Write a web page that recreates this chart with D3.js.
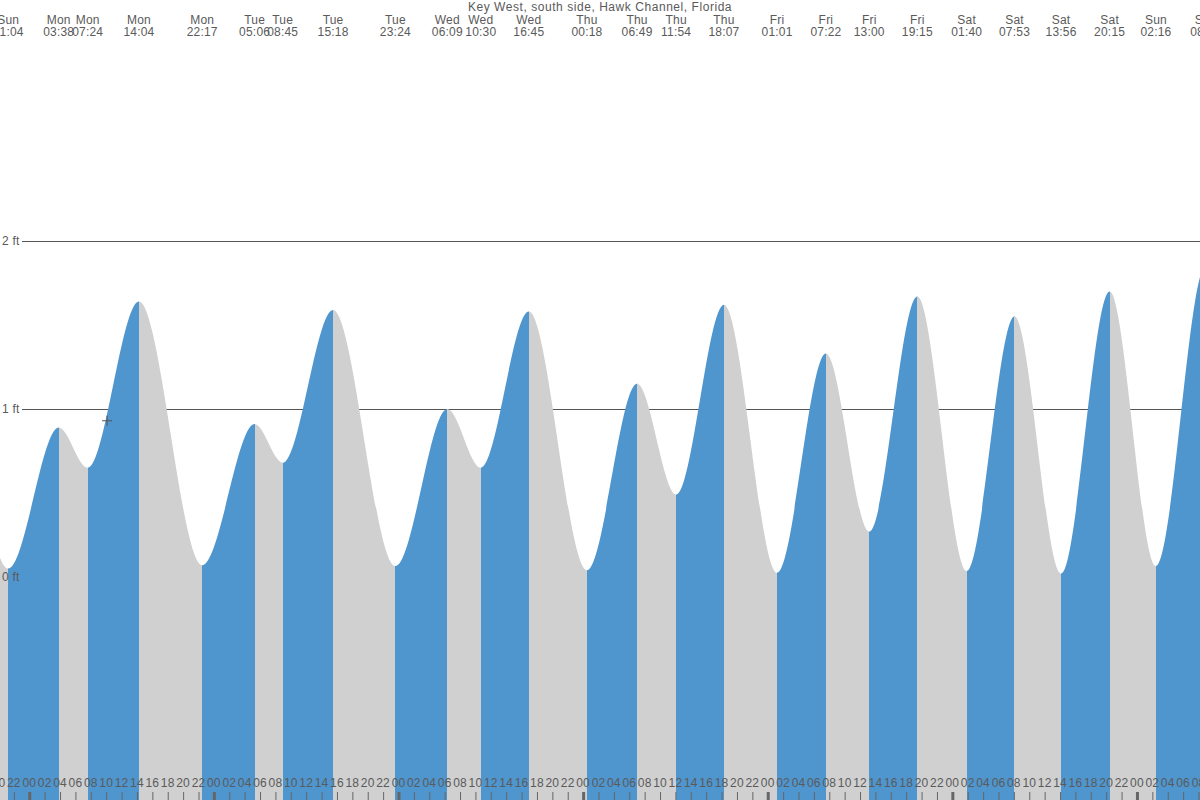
<!DOCTYPE html>
<html>
<head>
<meta charset="utf-8">
<title>Tide chart</title>
<script src="https://d3js.org/d3.v7.min.js"></script>
<style>
body { margin: 0; background: #fff; }
svg text { font-family: "Liberation Sans", Arial, sans-serif; font-size: 12px; fill: #5a5a5a; letter-spacing: 0.2px; }
svg text.title { letter-spacing: 0.55px; }
</style>
</head>
<body>
<script>

var title = "Key West, south side, Hawk Channel, Florida";

// visible window of the chart
var startTime = "2023-01-01 20:00";
var endTime = "2023-01-08 08:00";

// high / low tides (labelled at the top)
var eventTimes = ["2023-01-01 21:04", "2023-01-02 03:38", "2023-01-02 07:24", "2023-01-02 14:04",
  "2023-01-02 22:17", "2023-01-03 05:06", "2023-01-03 08:45", "2023-01-03 15:18",
  "2023-01-03 23:24", "2023-01-04 06:09", "2023-01-04 10:30", "2023-01-04 16:45",
  "2023-01-05 00:18", "2023-01-05 06:49", "2023-01-05 11:54", "2023-01-05 18:07",
  "2023-01-06 01:01", "2023-01-06 07:22", "2023-01-06 13:00", "2023-01-06 19:15",
  "2023-01-07 01:40", "2023-01-07 07:53", "2023-01-07 13:56", "2023-01-07 20:15",
  "2023-01-08 02:16", "2023-01-08 08:44"];
var eventHeights = [0.05, 0.89, 0.65, 1.64,
  0.07, 0.91, 0.68, 1.59,
  0.065, 1.0, 0.65, 1.58,
  0.04, 1.15, 0.49, 1.62,
  0.025, 1.33, 0.27, 1.67,
  0.035, 1.55, 0.02, 1.70,
  0.065, 1.85];

// tides just outside the window (not labelled, only shape the edges)
var prevTime = "2023-01-01 14:50";
var prevHeight = 1.62;
var nextTime = "2023-01-08 15:00";
var nextHeight = 0.1;

// "now" marker
var nowTime = "2023-01-02 09:55";
var nowHeight = 0.93;

var gridFeet = [0, 1, 2];

var width = 1200, height = 800;
var blue = "#4f95ce", grey = "#d0d0d0";

var parse = d3.timeParse("%Y-%m-%d %H:%M");
var fmtDay = d3.timeFormat("%a"), fmtTime = d3.timeFormat("%H:%M"), fmtHour = d3.timeFormat("%H");

var events = eventTimes.map(function(t, i) { return {t: parse(t), h: eventHeights[i]}; });
var curvePts = [{t: parse(prevTime), h: prevHeight}]
  .concat(events)
  .concat([{t: parse(nextTime), h: nextHeight}]);

var x = d3.scaleTime()
  .domain([parse(startTime), parse(endTime)])
  .range([0, width]);

var y = d3.scaleLinear()
  .domain([0, 2])
  .range([577, 241]);

var svg = d3.select("body").append("svg")
  .attr("width", width)
  .attr("height", height);

// grid lines (behind the water)
svg.selectAll("line.grid")
  .data(gridFeet)
  .enter().append("line")
  .attr("class", "grid")
  .attr("x1", 22).attr("x2", width)
  .attr("y1", function(d) { return Math.round(y(d)) + 0.5; })
  .attr("y2", function(d) { return Math.round(y(d)) + 0.5; })
  .attr("stroke", "#555")
  .attr("stroke-width", 1);

var area = d3.area()
  .x(function(d) { return x(d.t); })
  .y0(height)
  .y1(function(d) { return y(d.h); })
  .curve(d3.curveMonotoneX);

svg.append("defs").append("clipPath")
  .attr("id", "tide")
  .append("path")
  .attr("d", area(curvePts));

// rising = blue, falling = grey
var segs = d3.pairs(curvePts);
svg.append("g")
  .attr("clip-path", "url(#tide)")
  .selectAll("rect")
  .data(segs)
  .enter().append("rect")
  .attr("x", function(d) { return x(d[0].t); })
  .attr("width", function(d) { return x(d[1].t) - x(d[0].t) + 0.5; })
  .attr("y", 0)
  .attr("height", height)
  .attr("fill", function(d) { return d[1].h > d[0].h ? blue : grey; })
  .attr("shape-rendering", "crispEdges");

// y labels
svg.selectAll("text.ft")
  .data(gridFeet)
  .enter().append("text")
  .attr("class", "ft")
  .attr("x", 2)
  .attr("y", function(d) { return y(d) + 4; })
  .text(function(d) { return d + " ft"; });

// title
svg.append("text")
  .attr("class", "title")
  .attr("x", width / 2)
  .attr("y", 11)
  .attr("text-anchor", "middle")
  .text(title);

// high / low labels
var lab = svg.selectAll("g.ev")
  .data(events)
  .enter().append("g")
  .attr("class", "ev")
  .attr("transform", function(d) { return "translate(" + x(d.t) + ",0)"; });
lab.append("text")
  .attr("y", 24)
  .attr("text-anchor", "middle")
  .text(function(d) { return fmtDay(d.t); });
lab.append("text")
  .attr("y", 36)
  .attr("text-anchor", "middle")
  .text(function(d) { return fmtTime(d.t); });

// hour ticks along the bottom
var hours = x.ticks(d3.timeHour.every(2));
svg.selectAll("text.hr")
  .data(hours)
  .enter().append("text")
  .attr("class", "hr")
  .attr("x", function(d) { return x(d) - 1.5; })
  .attr("y", 787)
  .attr("text-anchor", "middle")
  .text(function(d) { return fmtHour(d); });

svg.selectAll("line.hr")
  .data(hours)
  .enter().append("line")
  .attr("class", "hr")
  .attr("x1", function(d) { return x(d) - 1; })
  .attr("x2", function(d) { return x(d) - 1; })
  .attr("y1", 792)
  .attr("y2", height)
  .attr("stroke", "#666")
  .attr("stroke-width", function(d) { return d.getHours() === 0 ? 3 : 1; });

// now marker
var nx = x(parse(nowTime)), ny = y(nowHeight);
svg.append("path")
  .attr("d", "M" + (nx - 5) + "," + ny + "H" + (nx + 5) + "M" + nx + "," + (ny - 5) + "V" + (ny + 5))
  .attr("stroke", "#555")
  .attr("stroke-width", 1)
  .attr("fill", "none");

</script>
</body>
</html>
